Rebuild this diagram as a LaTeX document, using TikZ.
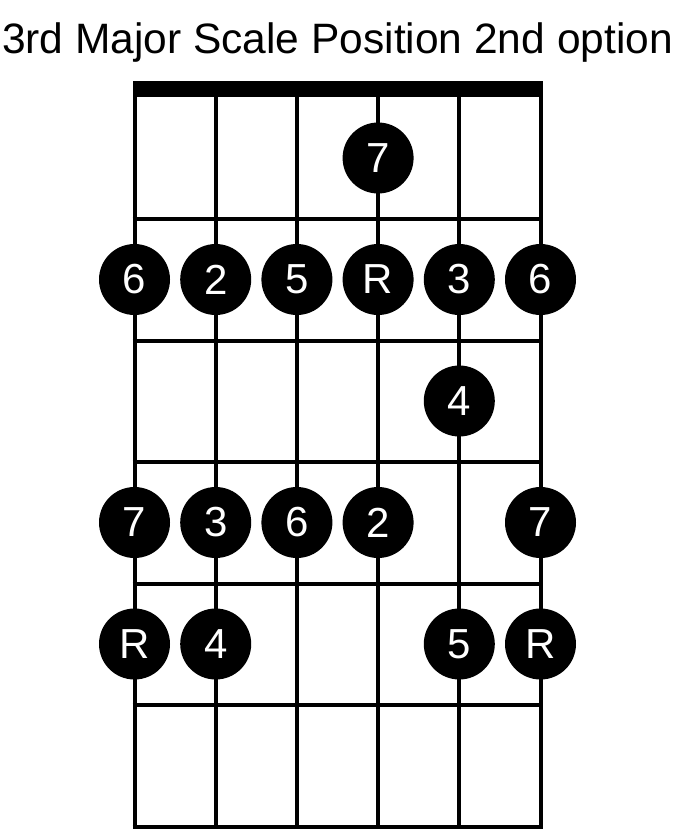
\documentclass[tikz,border=0pt]{standalone}
\usepackage{fontspec}
\setmainfont{Liberation Sans}
\begin{document}
\begin{tikzpicture}[x=1pt,y=-1pt,
  gridline/.style={line width=4pt,black},
  nut/.style={fill=black},
  dot/.style={circle,fill=black,minimum size=71pt,inner sep=0pt,text=white,font=\fontsize{42}{42}\selectfont},
  title/.style={anchor=base,inner sep=0pt,font=\fontsize{42.5}{43}\selectfont}]
\useasboundingbox (0,0) rectangle (675,839);
\fill[white] (0,0) rectangle (675,839);
% title
\node[title] (title) at (337.5,53) {3rd Major Scale Position 2nd option};
% nut
\fill[nut] (132.5,81) rectangle (542.5,97);
% strings
\foreach \i/\x in {1/134.5,2/215.7,3/296.9,4/378.1,5/459.3,6/540.5}{
  \coordinate (s\i t) at (\x,90);
  \coordinate (s\i b) at (\x,828.5);
  \draw[gridline] (s\i t) -- (s\i b);
}
% frets
\foreach \j/\y in {1/219,2/340.5,3/462,4/583.5,5/705,6/826.5}{
  \coordinate (f\j l) at (132.5,\y);
  \coordinate (f\j r) at (542.5,\y);
  \draw[gridline] (f\j l) -- (f\j r);
}
% dots
\node[dot] (d1) at (378.1,158) {7};
\node[dot] (d21) at (134.5,279.5) {6};
\node[dot] (d22) at (215.7,279.5) {2};
\node[dot] (d23) at (296.9,279.5) {5};
\node[dot] (d24) at (378.1,279.5) {R};
\node[dot] (d25) at (459.3,279.5) {3};
\node[dot] (d26) at (540.5,279.5) {6};
\node[dot] (d3) at (459.3,401) {4};
\node[dot] (d41) at (134.5,522.5) {7};
\node[dot] (d42) at (215.7,522.5) {3};
\node[dot] (d43) at (296.9,522.5) {6};
\node[dot] (d44) at (378.1,522.5) {2};
\node[dot] (d46) at (540.5,522.5) {7};
\node[dot] (d51) at (134.5,644) {R};
\node[dot] (d52) at (215.7,644) {4};
\node[dot] (d55) at (459.3,644) {5};
\node[dot] (d56) at (540.5,644) {R};
\end{tikzpicture}
\end{document}
